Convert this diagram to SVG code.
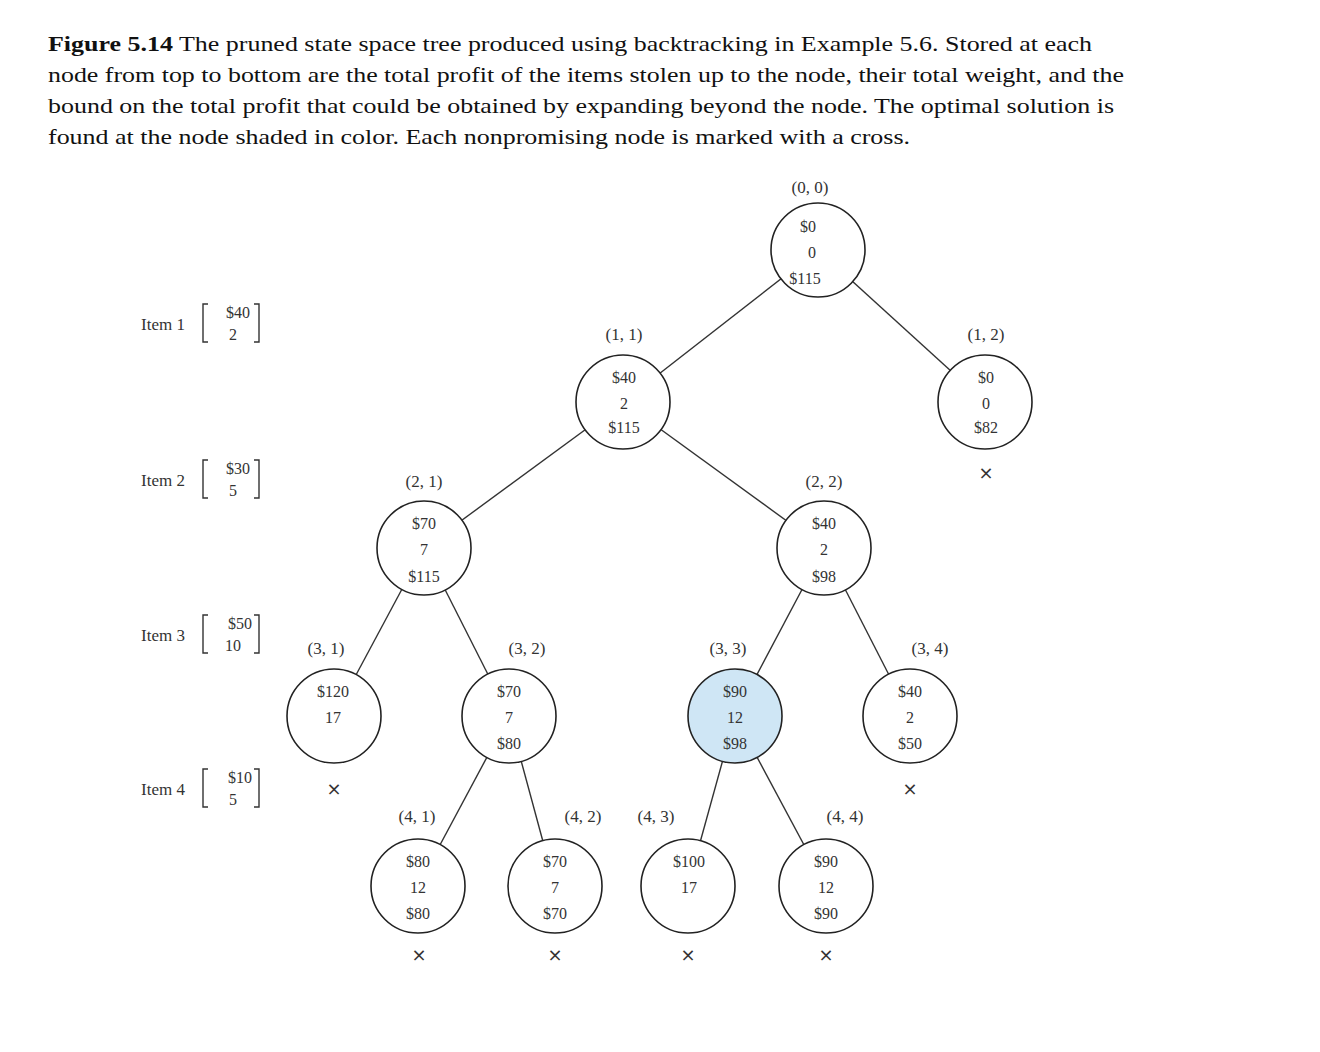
<svg xmlns="http://www.w3.org/2000/svg" width="1320" height="1052" viewBox="0 0 1320 1052">
<style>
.cap{font-family:"Liberation Serif",serif;font-size:22px;fill:#111}
.t{font-family:"Liberation Serif",serif;font-size:16px;fill:#333;text-anchor:middle}
.lb{font-family:"Liberation Serif",serif;font-size:17px;fill:#333;text-anchor:middle}
.n{fill:#fff;stroke:#222;stroke-width:1.6}
.x{font-family:"DejaVu Sans",sans-serif;font-size:18px;fill:#333;text-anchor:middle}
.e{stroke:#333;stroke-width:1.4}
.br{fill:none;stroke:#333;stroke-width:1.4}
</style>
<rect width="1320" height="1052" fill="#fff"/>
<g id="caption">
<text class="cap" x="48" y="51" textLength="1044" lengthAdjust="spacingAndGlyphs"><tspan font-weight="bold">Figure 5.14</tspan> The pruned state space tree produced using backtracking in Example 5.6. Stored at each</text>
<text class="cap" x="48" y="82" textLength="1076" lengthAdjust="spacingAndGlyphs">node from top to bottom are the total profit of the items stolen up to the node, their total weight, and the</text>
<text class="cap" x="48" y="113" textLength="1066" lengthAdjust="spacingAndGlyphs">bound on the total profit that could be obtained by expanding beyond the node. The optimal solution is</text>
<text class="cap" x="48" y="144" textLength="862" lengthAdjust="spacingAndGlyphs">found at the node shaded in color. Each nonpromising node is marked with a cross.</text>
</g>
<g id="items">
<g id="item1"><text class="lb" x="163" y="330">Item 1</text><path class="br" d="M208,304 h-5 v38 h5 M254,304 h5 v38 h-5"/><text class="t" x="238" y="318" font-size="15">$40</text><text class="t" x="233" y="340">2</text></g>
<g id="item2"><text class="lb" x="163" y="486">Item 2</text><path class="br" d="M208,460 h-5 v38 h5 M254,460 h5 v38 h-5"/><text class="t" x="238" y="474" font-size="15">$30</text><text class="t" x="233" y="496">5</text></g>
<g id="item3"><text class="lb" x="163" y="641">Item 3</text><path class="br" d="M208,615 h-5 v38 h5 M254,615 h5 v38 h-5"/><text class="t" x="240" y="629" font-size="15">$50</text><text class="t" x="233" y="651">10</text></g>
<g id="item4"><text class="lb" x="163" y="795">Item 4</text><path class="br" d="M208,769 h-5 v38 h5 M254,769 h5 v38 h-5"/><text class="t" x="240" y="783" font-size="15">$10</text><text class="t" x="233" y="805">5</text></g>
</g>
<g id="connectors">
<line class="e" x1="818" y1="250" x2="623" y2="402"/>
<line class="e" x1="818" y1="250" x2="985" y2="402"/>
<line class="e" x1="623" y1="402" x2="424" y2="548"/>
<line class="e" x1="623" y1="402" x2="824" y2="548"/>
<line class="e" x1="424" y1="548" x2="334" y2="716"/>
<line class="e" x1="424" y1="548" x2="509" y2="716"/>
<line class="e" x1="824" y1="548" x2="735" y2="716"/>
<line class="e" x1="824" y1="548" x2="910" y2="716"/>
<line class="e" x1="509" y1="716" x2="418" y2="886"/>
<line class="e" x1="509" y1="716" x2="555" y2="886"/>
<line class="e" x1="735" y1="716" x2="688" y2="886"/>
<line class="e" x1="735" y1="716" x2="826" y2="886"/>
</g>
<g id="n00"><text class="lb" x="810" y="193">(0, 0)</text><circle class="n" cx="818" cy="250" r="47"/><text class="t" x="808" y="232">$0</text><text class="t" x="812" y="258">0</text><text class="t" x="805" y="284">$115</text></g>
<g id="n11"><text class="lb" x="624" y="340">(1, 1)</text><circle class="n" cx="623" cy="402" r="47"/><text class="t" x="624" y="383">$40</text><text class="t" x="624" y="409">2</text><text class="t" x="624" y="433">$115</text></g>
<g id="n12"><text class="lb" x="986" y="340">(1, 2)</text><circle class="n" cx="985" cy="402" r="47"/><text class="t" x="986" y="383">$0</text><text class="t" x="986" y="409">0</text><text class="t" x="986" y="433">$82</text><text class="x" x="986" y="479">×</text></g>
<g id="n21"><text class="lb" x="424" y="487">(2, 1)</text><circle class="n" cx="424" cy="548" r="47"/><text class="t" x="424" y="529">$70</text><text class="t" x="424" y="555">7</text><text class="t" x="424" y="582">$115</text></g>
<g id="n22"><text class="lb" x="824" y="487">(2, 2)</text><circle class="n" cx="824" cy="548" r="47"/><text class="t" x="824" y="529">$40</text><text class="t" x="824" y="555">2</text><text class="t" x="824" y="582">$98</text></g>
<g id="n31"><text class="lb" x="326" y="654">(3, 1)</text><circle class="n" cx="334" cy="716" r="47"/><text class="t" x="333" y="697">$120</text><text class="t" x="333" y="723">17</text><text class="x" x="334" y="795">×</text></g>
<g id="n32"><text class="lb" x="527" y="654">(3, 2)</text><circle class="n" cx="509" cy="716" r="47"/><text class="t" x="509" y="697">$70</text><text class="t" x="509" y="723">7</text><text class="t" x="509" y="749">$80</text></g>
<g id="n33"><text class="lb" x="728" y="654">(3, 3)</text><circle class="n" cx="735" cy="716" r="47" fill="#cfe6f5" style="fill:#cfe6f5"/><text class="t" x="735" y="697">$90</text><text class="t" x="735" y="723">12</text><text class="t" x="735" y="749">$98</text></g>
<g id="n34"><text class="lb" x="930" y="654">(3, 4)</text><circle class="n" cx="910" cy="716" r="47"/><text class="t" x="910" y="697">$40</text><text class="t" x="910" y="723">2</text><text class="t" x="910" y="749">$50</text><text class="x" x="910" y="795">×</text></g>
<g id="n41"><text class="lb" x="417" y="822">(4, 1)</text><circle class="n" cx="418" cy="886" r="47"/><text class="t" x="418" y="867">$80</text><text class="t" x="418" y="893">12</text><text class="t" x="418" y="919">$80</text><text class="x" x="419" y="961">×</text></g>
<g id="n42"><text class="lb" x="583" y="822">(4, 2)</text><circle class="n" cx="555" cy="886" r="47"/><text class="t" x="555" y="867">$70</text><text class="t" x="555" y="893">7</text><text class="t" x="555" y="919">$70</text><text class="x" x="555" y="961">×</text></g>
<g id="n43"><text class="lb" x="656" y="822">(4, 3)</text><circle class="n" cx="688" cy="886" r="47"/><text class="t" x="689" y="867">$100</text><text class="t" x="689" y="893">17</text><text class="x" x="688" y="961">×</text></g>
<g id="n44"><text class="lb" x="845" y="822">(4, 4)</text><circle class="n" cx="826" cy="886" r="47"/><text class="t" x="826" y="867">$90</text><text class="t" x="826" y="893">12</text><text class="t" x="826" y="919">$90</text><text class="x" x="826" y="961">×</text></g>
</svg>
